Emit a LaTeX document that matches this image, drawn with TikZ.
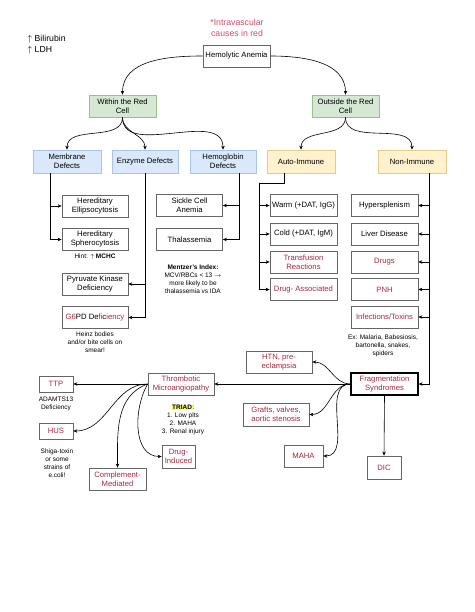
\documentclass[tikz,border=0pt]{standalone}
\usepackage{fontspec}
\setmainfont{Liberation Sans}
\usetikzlibrary{arrows.meta}

\definecolor{causered}{HTML}{A82A3E}
\definecolor{intrared}{HTML}{D14C68}
\definecolor{boxgray}{HTML}{666666}
\definecolor{greenfill}{HTML}{D5E8D4}
\definecolor{greenline}{HTML}{9DBF8C}
\definecolor{bluefill}{HTML}{DAE8FC}
\definecolor{blueline}{HTML}{A9C4EB}
\definecolor{yellowfill}{HTML}{FFF2CC}
\definecolor{yellowline}{HTML}{E3CB8A}
\definecolor{triadyellow}{HTML}{FFFF55}

\begin{document}
\begin{tikzpicture}[x=1pt, y=-1pt, line width=0.6pt,
    >={Stealth[length=4pt,width=3.5pt]},
    every node/.style={font=\fontsize{7.7}{9}\selectfont},
    box/.style={draw=boxgray, fill=white, line width=0.7pt, align=center, inner sep=1pt,
        minimum width=66pt, minimum height=22pt},
    greenbox/.style={box, draw=greenline, fill=greenfill, minimum width=67pt},
    bluebox/.style={box, draw=blueline, fill=bluefill, minimum height=23pt},
    yellowbox/.style={box, draw=yellowline, fill=yellowfill, minimum width=68pt, minimum height=23pt},
    cause/.style={text=causered},
    note/.style={align=center, font=\fontsize{6.5}{8}\selectfont}]

    % Page
    \fill[white] (0,0) rectangle (474,612);
    \useasboundingbox (0,0) rectangle (474,612);

    % Top
    \node[anchor=west, align=left, font=\fontsize{8.7}{11.4}\selectfont] (labs) at (24,45) {$\uparrow$ Bilirubin\\$\uparrow$ LDH};
    \node[align=center, text=intrared, font=\fontsize{8.7}{10.5}\selectfont] (intra) at (237,28) {*Intravascular\\causes in red};
    \node[box, minimum width=67pt] (hemo) at (236.5,56) {Hemolytic Anemia};
    \node[greenbox] (within) at (122.5,106) {Within the Red\\Cell};
    \node[greenbox] (outside) at (345.5,106) {Outside the Red\\Cell};
    \draw[->] (hemo.west) to[out=180, in=90] (within.north);
    \draw[->] (hemo.east) to[out=0, in=90] (outside.north);

    % Within the red cell
    \node[bluebox, minimum width=68pt] (memb) at (67,161.5) {Membrane\\Defects};
    \node[bluebox] (enz) at (145,161.5) {Enzyme Defects};
    \node[bluebox] (hgb) at (223,161.5) {Hemoglobin\\Defects};
    \draw[->] (within.south) to[out=-90, in=90] (memb.north);
    \draw[->] (within.south) to[out=-90, in=90] (enz.north);
    \draw[->] (within.south) to[out=-90, in=90] (hgb.north);

    % Membrane
    \node[box] (ellip) at (95,206) {Hereditary\\Ellipsocytosis};
    \node[box] (spher) at (95,239.5) {Hereditary\\Spherocytosis};
    \node[note] (hint) at (95,257) {Hint: $\uparrow$ \textbf{MCHC}};
    \draw[->] ([xshift=-17pt]memb.south) |- (ellip.west);
    \draw[->] ([xshift=-17pt]memb.south) |- (spher.west);

    % Enzyme
    \node[box] (pk) at (95,284) {Pyruvate Kinase\\Deficiency};
    \node[box] (g6pd) at (95,317.5) {{\color{causered}G6}PD De{\color{causered}fi}c{\color{causered}iency}};
    \node[note] (heinz) at (95,342) {Heinz bodies\\and/or bite cells on\\smear!};
    \draw[->] (enz.south) |- (pk.east);
    \draw[->] (enz.south) |- (g6pd.east);

    % Hemoglobin
    \node[box] (sickle) at (189.5,205.5) {Sickle Cell\\Anemia};
    \node[box] (thal) at (189.5,239.5) {Thalassemia};
    \node[note] (mentzer) at (193,279) {\textbf{Mentzer’s Index:}\\MCV/RBCs < 13 $\rightarrow$\\more likely to be\\thalassemia vs IDA};
    \draw[->] ([xshift=16pt]hgb.south) |- (sickle.east);
    \draw[->] ([xshift=16pt]hgb.south) |- (thal.east);

    % Outside the red cell
    \node[yellowbox] (auto) at (301,161.5) {Auto-Immune};
    \node[yellowbox] (nonimm) at (412,161.5) {Non-Immune};
    \draw[->] (outside.south) to[out=-90, in=90] (auto.north);
    \draw[->] (outside.south) to[out=-90, in=90] (nonimm.north);

    % Auto-immune
    \node[box, minimum width=67pt] (warm) at (303.5,205.5) {Warm (+DAT, IgG)};
    \node[box, minimum width=67pt] (cold) at (303.5,234) {Cold (+DAT, IgM)};
    \node[box, minimum width=67pt, cause] (transf) at (303.5,262) {Transfusion\\Reactions};
    \node[box, minimum width=67pt, cause] (drugassoc) at (303.5,289.5) {Drug- Associated};
    \coordinate (autobus) at (259,183);
    \draw ([xshift=-17pt]auto.south) |- (autobus);
    \draw[->] (autobus) |- (warm.west);
    \draw[->] (autobus) |- (cold.west);
    \draw[->] (autobus) |- (transf.west);
    \draw[->] (autobus) |- (drugassoc.west);

    % Non-immune
    \node[box, minimum width=67pt] (hyper) at (384.5,205.5) {Hypersplenism};
    \node[box, minimum width=67pt] (liver) at (384.5,234) {Liver Disease};
    \node[box, minimum width=67pt, cause] (drugs) at (384.5,262) {Drugs};
    \node[box, minimum width=67pt, cause] (pnh) at (384.5,289.5) {PNH};
    \node[box, minimum width=67pt, cause] (infect) at (384.5,317) {Infections/Toxins};
    \node[note] (ex) at (383,346) {Ex: Malaria, Babesiosis,\\bartonella, snakes,\\spiders};
    \node[box, minimum width=67pt, draw=black, line width=1.2pt, cause] (frag) at (384.5,384) {Fragmentation\\Syndromes};
    \draw[->] ([xshift=17pt]nonimm.south) |- (hyper.east);
    \draw[->] ([xshift=17pt]nonimm.south) |- (liver.east);
    \draw[->] ([xshift=17pt]nonimm.south) |- (drugs.east);
    \draw[->] ([xshift=17pt]nonimm.south) |- (pnh.east);
    \draw[->] ([xshift=17pt]nonimm.south) |- (infect.east);
    \draw[->] ([xshift=17pt]nonimm.south) |- (frag.east);

    % Fragmentation
    \node[box, cause] (htn) at (279,362) {HTN, pre-\\eclampsia};
    \node[box, minimum height=23pt, cause] (grafts) at (276,414.5) {Grafts, valves,\\aortic stenosis};
    \node[box, minimum width=39pt, cause] (maha) at (303.5,456) {MAHA};
    \node[box, minimum width=34pt, minimum height=23pt, cause] (dic) at (384,467.5) {DIC};
    \draw[->] (frag.west) to[out=180, in=0] (htn.east);
    \draw[->] (frag.west) to[out=180, in=0] (grafts.east);
    \draw[->] (frag.west) to[out=180, in=0] (maha.east);
    \draw[->] (frag.south) -- (dic.north);

    % Thrombotic microangiopathy
    \node[box, cause] (tma) at (181,384) {Thrombotic\\Microangiopathy};
    \draw[->] (frag.west) -- (tma.east);
    \node[box, minimum width=34pt, minimum height=16pt, cause] (ttp) at (56,384) {TTP};
    \node[note] (adamts) at (56,404) {ADAMTS13\\Deficiency};
    \node[box, minimum width=34pt, minimum height=16pt, cause] (hus) at (56,431) {HUS};
    \node[note] (shiga) at (57,463) {Shiga-toxin\\or some\\strains of\\e.coli!};
    \node[box, minimum width=57pt, cause] (comp) at (117.5,479) {Complement-\\Mediated};
    \node[box, minimum width=33pt, minimum height=23pt, cause] (druginduced) at (178.5,456.5) {Drug-\\Induced};
    \node[note] (triad) at (183,420) {{\setlength{\fboxsep}{0.6pt}\colorbox{triadyellow}{\textbf{TRIAD}}}:\\1. Low plts\\2. MAHA\\3. Renal injury};
    \draw[->] (tma.west) -- (ttp.east);
    \draw[->] (tma.west) to[out=180, in=0] (hus.east);
    \draw[->] (tma.west) to[out=200, in=90] (comp.north);
    \draw[->] (tma.west) to[out=240, in=180] (druginduced.west);
\end{tikzpicture}
\end{document}
